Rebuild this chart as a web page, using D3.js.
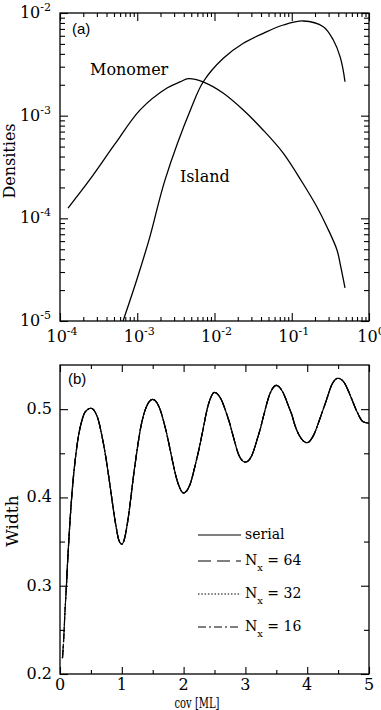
<!DOCTYPE html>
<html>
<head>
<meta charset="utf-8">
<script src="https://cdnjs.cloudflare.com/ajax/libs/d3/7.8.5/d3.min.js"></script>
<style>
  body { margin: 0; background: #fff; }
  svg { display: block; }
  text { fill: #000; }
</style>
</head>
<body>
<div id="chart"></div>
<script>
// panel (a): densities vs coverage (log-log)
var monomerCov = [1.27e-4, 2.47e-4, 5.15e-4, 1.09e-3, 2.43e-3, 3.57e-3, 4.6e-3, 7.1e-3, 1.29e-2, 2.34e-2, 4.25e-2, 7.71e-2, 0.136, 0.212, 0.286, 0.385, 0.43, 0.489];
var monomerDens = [1.26e-4, 2.42e-4, 5.3e-4, 1.14e-3, 1.86e-3, 2.13e-3, 2.29e-3, 2.13e-3, 1.66e-3, 1.14e-3, 7.26e-4, 4.34e-4, 2.26e-4, 1.29e-4, 8.24e-5, 4.92e-5, 3.4e-5, 2.1e-5];
var islandCov = [6.55e-4, 9.84e-4, 1.46e-3, 2.29e-3, 5.07e-3, 7.16e-3, 1.30e-2, 2.36e-2, 4.29e-2, 7.78e-2, 0.141, 0.256, 0.345, 0.422, 0.489];
var islandDens = [1.0e-5, 2.51e-5, 6.64e-5, 2.37e-4, 1.22e-3, 2.14e-3, 3.62e-3, 5.07e-3, 6.34e-3, 7.64e-3, 8.36e-3, 7.36e-3, 5.46e-3, 3.76e-3, 2.14e-3];
var logTicks = [1e-5, 1e-4, 1e-3, 1e-2, 1e-1, 1];

// panel (b): width vs coverage
var widthCov = [0.1, 0.125, 0.15, 0.2, 0.25, 0.3, 0.35, 0.4, 0.5, 0.6, 0.7, 0.75, 0.8, 0.9, 0.95, 1.0, 1.05, 1.1, 1.2, 1.25, 1.3, 1.4, 1.5, 1.6, 1.7, 1.75, 1.8, 1.9, 2.0, 2.1, 2.2, 2.25, 2.3, 2.4, 2.5, 2.6, 2.7, 2.75, 2.8, 2.9, 3.0, 3.1, 3.2, 3.25, 3.3, 3.4, 3.5, 3.6, 3.7, 3.75, 3.8, 3.9, 4.0, 4.1, 4.2, 4.25, 4.3, 4.4, 4.5, 4.6, 4.7, 4.8, 4.9, 5.0];
var widthVal = [0.295, 0.33, 0.36, 0.41, 0.445, 0.47, 0.486, 0.496, 0.501, 0.492, 0.462, 0.442, 0.418, 0.37, 0.352, 0.347, 0.355, 0.375, 0.43, 0.455, 0.477, 0.503, 0.511, 0.503, 0.48, 0.465, 0.448, 0.418, 0.405, 0.414, 0.44, 0.455, 0.472, 0.505, 0.519, 0.512, 0.494, 0.483, 0.47, 0.447, 0.44, 0.447, 0.468, 0.48, 0.494, 0.518, 0.527, 0.52, 0.503, 0.494, 0.482, 0.467, 0.462, 0.47, 0.488, 0.498, 0.508, 0.528, 0.535, 0.53, 0.515, 0.498, 0.486, 0.484];
// early points only present for the parallel runs
var earlyCov = [0.04, 0.06, 0.08];
var earlyWidth = [0.218, 0.24, 0.27];
var widthTicks = [0.2, 0.3, 0.4, 0.5];
var covTicks = [0, 1, 2, 3, 4, 5];
var seriesNames = ["serial", "N_x = 64", "N_x = 32", "N_x = 16"];
var seriesDash = [null, "13,6", "1.5,1.8", "8,3,2,3"];

var W = 381, H = 710;
var svg = d3.select("#chart").append("svg").attr("width", W).attr("height", H);
var serif = "DejaVu Serif", sans = "Liberation Sans";

function zip(xs, ys) { return xs.map(function(x, i) { return [x, ys[i]]; }); }

function frame(g, top, bottom, left, right) {
  g.append("rect").attr("x", left).attr("y", top)
    .attr("width", right - left).attr("height", bottom - top)
    .attr("fill", "none").attr("stroke", "#000").attr("stroke-width", 1.3);
}

function tickSet(g, axisFn, scale, vals, size, tx, ty) {
  var ax = g.append("g").attr("transform", "translate(" + tx + "," + ty + ")")
    .call(axisFn(scale).tickValues(vals).tickSize(-size).tickSizeOuter(0).tickFormat(""));
  ax.select(".domain").remove();
  ax.selectAll("line").attr("stroke", "#000").attr("stroke-width", 1.1);
}

function sup(sel, base, exp) {
  sel.append("tspan").text(base);
  sel.append("tspan").attr("dy", -7).attr("font-size", 11).text(exp);
}

// ---------- panel (a)
var xa = d3.scaleLog().domain([1e-4, 1]).range([60, 369]);
var ya = d3.scaleLog().domain([1e-5, 1e-2]).range([321, 13]);
var ga = svg.append("g");

var majorX = logTicks.filter(function(d) { return d >= 1e-4; });
var majorY = logTicks.filter(function(d) { return d <= 1e-2; });
var minorX = [], minorY = [];
[1e-4, 1e-3, 1e-2, 1e-1].forEach(function(dec) { for (var k = 2; k < 10; k++) minorX.push(dec * k); });
[1e-5, 1e-4, 1e-3].forEach(function(dec) { for (var k = 2; k < 10; k++) minorY.push(dec * k); });

tickSet(ga, d3.axisBottom, xa, majorX, 8, 0, 321);
tickSet(ga, d3.axisBottom, xa, minorX, 4, 0, 321);
tickSet(ga, d3.axisTop, xa, majorX, 8, 0, 13);
tickSet(ga, d3.axisTop, xa, minorX, 4, 0, 13);
tickSet(ga, d3.axisLeft, ya, majorY, 8, 60, 0);
tickSet(ga, d3.axisLeft, ya, minorY, 5, 60, 0);
tickSet(ga, d3.axisRight, ya, majorY, 8, 369, 0);
tickSet(ga, d3.axisRight, ya, minorY, 5, 369, 0);
frame(ga, 13, 321, 60, 369);

majorX.forEach(function(v) {
  var t = ga.append("text").attr("x", xa(v) + 2).attr("y", 342)
    .attr("text-anchor", "middle").attr("font-family", serif).attr("font-size", 16);
  sup(t, "10", String(Math.round(Math.log10(v))));
});
majorY.forEach(function(v) {
  var t = ga.append("text").attr("x", 51).attr("y", ya(v) + 5)
    .attr("text-anchor", "end").attr("font-family", serif).attr("font-size", 16);
  sup(t, "10", String(Math.round(Math.log10(v))));
});

var lineA = d3.line().x(function(d) { return xa(d[0]); }).y(function(d) { return ya(d[1]); })
  .curve(d3.curveCatmullRom.alpha(0.5));
ga.append("path").attr("d", lineA(zip(monomerCov, monomerDens)))
  .attr("fill", "none").attr("stroke", "#000").attr("stroke-width", 1.3);
ga.append("path").attr("d", lineA(zip(islandCov, islandDens)))
  .attr("fill", "none").attr("stroke", "#000").attr("stroke-width", 1.3);

ga.append("text").attr("x", 72).attr("y", 34).attr("font-family", sans).attr("font-size", 15).text("(a)");
ga.append("text").attr("x", 90).attr("y", 75).attr("font-family", serif).attr("font-size", 16).text("Monomer");
ga.append("text").attr("x", 180).attr("y", 182).attr("font-family", serif).attr("font-size", 16).text("Island");
ga.append("text").attr("transform", "translate(15,161) rotate(-90)").attr("text-anchor", "middle")
  .attr("font-family", serif).attr("font-size", 16).text("Densities");

// ---------- panel (b)
var xb = d3.scaleLinear().domain([0, 5]).range([60, 369]);
var yb = d3.scaleLinear().domain([0.2, 0.55]).range([674, 365]);
var gb = svg.append("g");

var minorCov = [0.5, 1.5, 2.5, 3.5, 4.5];
var minorW = [0.25, 0.35, 0.45];
tickSet(gb, d3.axisBottom, xb, covTicks, 7, 0, 674);
tickSet(gb, d3.axisBottom, xb, minorCov, 4, 0, 674);
tickSet(gb, d3.axisTop, xb, covTicks, 7, 0, 365);
tickSet(gb, d3.axisTop, xb, minorCov, 4, 0, 365);
tickSet(gb, d3.axisLeft, yb, widthTicks, 8, 60, 0);
tickSet(gb, d3.axisLeft, yb, minorW, 5, 60, 0);
tickSet(gb, d3.axisRight, yb, widthTicks, 8, 369, 0);
tickSet(gb, d3.axisRight, yb, minorW, 5, 369, 0);
frame(gb, 365, 674, 60, 369);

covTicks.forEach(function(v) {
  gb.append("text").attr("x", xb(v)).attr("y", 690).attr("text-anchor", "middle")
    .attr("font-family", serif).attr("font-size", 16).text(v);
});
widthTicks.forEach(function(v) {
  gb.append("text").attr("x", 52).attr("y", yb(v) + 5).attr("text-anchor", "end")
    .attr("font-family", serif).attr("font-size", 16).text(v.toFixed(1));
});

var lineB = d3.line().x(function(d) { return xb(d[0]); }).y(function(d) { return yb(d[1]); })
  .curve(d3.curveMonotoneX);
var serialPts = zip(widthCov, widthVal);
var parallelPts = zip(earlyCov, earlyWidth).concat(serialPts);
seriesNames.forEach(function(name, i) {
  gb.append("path").attr("d", lineB(i === 0 ? serialPts : parallelPts))
    .attr("fill", "none").attr("stroke", "#000").attr("stroke-width", 1.2)
    .attr("stroke-dasharray", seriesDash[i]);
});

// legend
var legY = [535, 561, 594, 627];
seriesNames.forEach(function(name, i) {
  gb.append("line").attr("x1", 198).attr("x2", 241).attr("y1", legY[i]).attr("y2", legY[i])
    .attr("stroke", "#000").attr("stroke-width", 1.2).attr("stroke-dasharray", seriesDash[i]);
  var t = gb.append("text").attr("x", 245).attr("y", legY[i] + 4)
    .attr("font-family", serif).attr("font-size", 14);
  if (i === 0) { t.text(name); }
  else {
    t.append("tspan").text("N");
    t.append("tspan").attr("dy", 6).attr("font-size", 10).text("x");
    t.append("tspan").attr("dy", -6).text(" " + name.split(" ").slice(1).join(" "));
  }
});

gb.append("text").attr("x", 68).attr("y", 384).attr("font-family", sans).attr("font-size", 15).text("(b)");
gb.append("text").attr("transform", "translate(18,521) rotate(-90)").attr("text-anchor", "middle")
  .attr("font-family", serif).attr("font-size", 17).text("Width");
gb.append("text").attr("x", 197).attr("y", 708).attr("text-anchor", "middle")
  .attr("font-family", serif).attr("font-size", 14).attr("textLength", 45)
  .attr("lengthAdjust", "spacingAndGlyphs").text("cov [ML]");
</script>
</body>
</html>
